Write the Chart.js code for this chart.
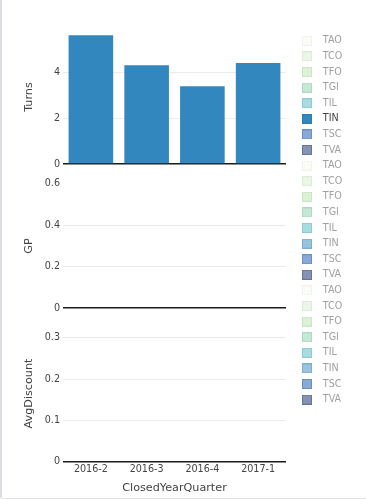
<!DOCTYPE html>
<html><head><meta charset="utf-8">
<script src="https://cdn.jsdelivr.net/npm/chart.js@4.4.1/dist/chart.umd.min.js"></script>
<style>
html,body{margin:0;padding:0;background:#fff;}
#wrap{position:relative;width:366px;height:500px;overflow:hidden;}
#frame{position:absolute;left:0;top:0;width:366px;height:499px;box-sizing:border-box;border-left:2px solid #dddce4;border-bottom:1px solid #e4e4e4;border-bottom-left-radius:3px;pointer-events:none;}
canvas{position:absolute;left:0;top:0;}
</style></head><body>
<div id="wrap"><canvas id="c" width="366" height="500"></canvas><div id="frame"></div></div>
<script>
// ---- data ----
const quarters = ['2016-2', '2016-3', '2016-4', '2017-1'];
const seriesNames = ['TAO', 'TCO', 'TFO', 'TGI', 'TIL', 'TIN', 'TSC', 'TVA'];
const seriesColors = ['#f5fbed', '#d5efcd', '#b9e5ad', '#89d1a7', '#53b7c5', '#3287be', '#1153a7', '#0b2567'];
const metricNames = ['Turns', 'GP', 'AvgDiscount'];
const turnsTIN = [5.6, 4.3, 3.38, 4.39];
const turnsTicks = [0, 2, 4];
const gpTicks = [0, 0.2, 0.4, 0.6];
const discountTicks = [0, 0.1, 0.2, 0.3];
const xTitle = 'ClosedYearQuarter';

// only TIN / Turns is shown; the other traces are legend-only
const shownData = { Turns: { TIN: turnsTIN } };

// ---- styling ----
const FAM = '"DejaVu Sans", Verdana, sans-serif';
const TICK_FONT = { size: 9.6, family: FAM };
const TITLE_FONT = { size: 11.2, family: FAM };
const TXT = '#444';
const LEGEND_W = 80, LEG_PAD = 6, BOXW = 26;

function darker(hex, f) {
  const n = parseInt(hex.slice(1), 16);
  const r = Math.round(((n >> 16) & 255) * f), g = Math.round(((n >> 8) & 255) * f), b = Math.round((n & 255) * f);
  return `rgb(${r},${g},${b})`;
}
function swatch(color, faded) {
  const c = document.createElement('canvas');
  c.width = BOXW; c.height = 10;
  const x = c.getContext('2d');
  x.globalAlpha = faded ? 0.5 : 1;
  x.fillStyle = color;
  x.fillRect(10, 0, 10, 10);
  x.globalAlpha = faded ? 0.25 : 0.6;
  x.strokeStyle = darker(color, 0.85);
  x.lineWidth = 1;
  x.strokeRect(10.5, 0.5, 9, 9);
  return c;
}

const datasets = [];
metricNames.forEach((m, k) => {
  seriesNames.forEach((s, j) => {
    const d = (shownData[m] && shownData[m][s]) || null;
    datasets.push({
      label: s,
      data: d || [],
      hidden: !d,
      yAxisID: 'y' + k,
      backgroundColor: seriesColors[j],
      borderWidth: 0,
      barPercentage: 0.8,
      categoryPercentage: 1.0
    });
  });
});

function yAxis(title, ticks, max, weight, order) {
  return {
    type: 'linear', position: 'left', stack: 'plots', stackWeight: weight, weight: order,
    min: 0, max: max,
    afterFit: s => { s.width = 63; },
    afterBuildTicks: s => { s.ticks = ticks.map(v => ({ value: v })); },
    ticks: { padding: 3, color: TXT, font: TICK_FONT, callback: v => String(v) },
    grid: {
      drawTicks: false,
      color: c => c.tick.value === 0 ? '#1a1a1a' : (c.tick.value >= max - 1e-9 ? 'rgba(0,0,0,0)' : '#ebebeb'),
      lineWidth: c => c.tick.value === 0 ? 1.6 : 1
    },
    border: { display: false },
    title: { display: true, text: title, color: TXT, font: TITLE_FONT, padding: { top: 22, bottom: 0 } }
  };
}
function spacer(weight, order) {
  return {
    type: 'linear', position: 'left', stack: 'plots', stackWeight: weight, weight: order,
    display: false
  };
}

// keep the vertical legend at a fixed column width on the right
const legendWidthPlugin = {
  id: 'legendWidth',
  beforeLayout(chart) {
    const lg = chart.legend;
    if (lg && !lg._fixedW) {
      const fit = lg.fit;
      lg.fit = function () { fit.call(this); this.width = LEGEND_W; };
      lg._fixedW = true;
    }
  }
};

new Chart(document.getElementById('c'), {
  type: 'bar',
  data: { labels: quarters, datasets },
  plugins: [legendWidthPlugin],
  options: {
    responsive: false, animation: false, devicePixelRatio: 1,
    layout: { padding: { top: 30, left: 0, bottom: 0, right: 0 } },
    scales: {
      x: {
        type: 'category', offset: true,
        grid: { display: false, drawTicks: false }, border: { display: false },
        ticks: { padding: 2, color: TXT, font: TICK_FONT, maxRotation: 0, autoSkip: false },
        title: { display: true, text: xTitle, color: TXT, font: TITLE_FONT, padding: { top: 0, bottom: 5 } },
        afterFit: s => { s.height = 38.3; }
      },
      y0: yAxis(metricNames[0], turnsTicks, 5.83, 134, 5),
      g1: spacer(19.7, 4),
      y1: yAxis(metricNames[1], gpTicks, 0.6, 124.6, 3),
      g2: spacer(17, 2),
      y2: yAxis(metricNames[2], discountTicks, 0.33, 136.4, 1)
    },
    plugins: {
      tooltip: { enabled: false },
      legend: {
        position: 'right', align: 'start',
        labels: {
          usePointStyle: true, pointStyleWidth: BOXW, padding: LEG_PAD,
          font: { size: 9.6, family: FAM },
          generateLabels: chart => chart.data.datasets.map((ds, i) => ({
            text: ds.label,
            pointStyle: swatch(ds.backgroundColor, ds.hidden),
            fillStyle: ds.backgroundColor,
            strokeStyle: 'rgba(0,0,0,0)',
            lineWidth: 0,
            fontColor: ds.hidden ? '#a1a1a1' : TXT,
            hidden: false,
            datasetIndex: i
          }))
        }
      }
    }
  }
});
</script>
</body></html>
